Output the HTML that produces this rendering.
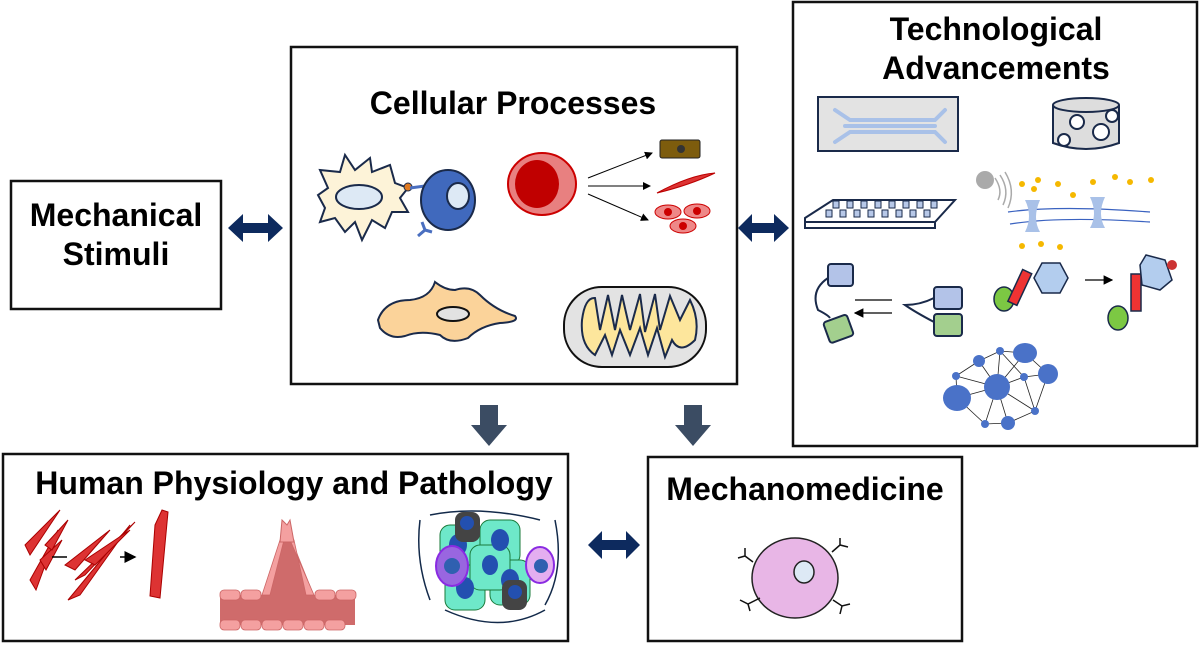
<!DOCTYPE html>
<html><head><meta charset="utf-8"><style>
body{margin:0;background:#fff;width:1200px;height:645px;overflow:hidden}
svg{display:block}
text{font-family:"Liberation Sans",Arial,sans-serif;font-weight:bold;fill:#000}
</style></head><body>
<svg width="1200" height="645" viewBox="0 0 1200 645">
<defs>
<marker id="ah" markerWidth="8" markerHeight="8" refX="7" refY="4" orient="auto"><path d="M0,0 L8,4 L0,8z" fill="#000"/></marker>
</defs>
<!-- boxes -->
<rect x="11" y="181" width="210" height="128" fill="#fff" stroke="#111" stroke-width="2.5"/>
<text x="116" y="226" font-size="32" text-anchor="middle">Mechanical</text>
<text x="116" y="265" font-size="32" text-anchor="middle">Stimuli</text>
<rect x="291" y="47" width="446" height="337" fill="#fff" stroke="#111" stroke-width="2.5"/>
<text x="513" y="114" font-size="32" text-anchor="middle">Cellular Processes</text>
<rect x="793" y="2" width="404" height="444" fill="#fff" stroke="#111" stroke-width="2.5"/>
<text x="996" y="40" font-size="32" text-anchor="middle">Technological</text>
<text x="996" y="79" font-size="32" text-anchor="middle">Advancements</text>
<rect x="3" y="454" width="565" height="187" fill="#fff" stroke="#111" stroke-width="2.5"/>
<text x="294" y="494" font-size="32" text-anchor="middle">Human Physiology and Pathology</text>
<rect x="648" y="457" width="314" height="184" fill="#fff" stroke="#111" stroke-width="2.5"/>
<text x="805" y="500" font-size="32" text-anchor="middle">Mechanomedicine</text>
<!-- double arrows -->
<g fill="#0d2a5e">
<path d="M228,228 L243,214 L243,223 L268,223 L268,214 L283,228 L268,242 L268,233 L243,233 L243,242z"/>
<path d="M738,228 L752,214 L752,223 L774,223 L774,214 L789,228 L774,242 L774,233 L752,233 L752,242z"/>
<path d="M588,545 L602,531 L602,540 L626,540 L626,531 L640,545 L626,559 L626,550 L602,550 L602,559z"/>
</g>
<g fill="#3b4c63">
<path d="M480,405 L498,405 L498,425 L507,425 L489,446 L471,425 L480,425z"/>
<path d="M684,405 L702,405 L702,425 L711,425 L693,446 L675,425 L684,425z"/>
</g>
<!-- cellular: dendritic cell -->
<path d="M320,170 L340,172 L345,155 L355,170 L370,158 L372,172 L390,165 L395,183 L408,188 L400,198 L408,212 L392,212 L385,228 L372,220 L362,240 L355,222 L345,232 L335,218 L320,222 L325,208 L318,195 L328,188z" fill="#fdf3d8" stroke="#1a2a4a" stroke-width="2"/>
<ellipse cx="359" cy="197" rx="23" ry="12" fill="#dde9f5" stroke="#1a2a4a" stroke-width="2"/>
<circle cx="408" cy="187" r="4" fill="#e07a20" stroke="#1a2a4a"/>
<path d="M410,188 L425,186 M422,222 L425,230 L418,236 M425,230 L432,232" stroke="#4a6fc0" stroke-width="3" fill="none"/>
<ellipse cx="448" cy="200" rx="27" ry="30" fill="#4069bd" stroke="#1a2a4a" stroke-width="2"/>
<ellipse cx="458" cy="196" rx="11" ry="13" fill="#dde9f5" stroke="#1a2a4a" stroke-width="2"/>
<!-- stem cell -->
<ellipse cx="542" cy="184" rx="34" ry="31" fill="#e88080" stroke="#c00" stroke-width="2"/>
<ellipse cx="537" cy="184" rx="22" ry="24" fill="#c00000"/>
<g stroke="#000" stroke-width="1" marker-end="url(#ah)">
<line x1="588" y1="178" x2="652" y2="153"/><line x1="588" y1="186" x2="650" y2="186"/><line x1="588" y1="194" x2="648" y2="220"/>
</g>
<rect x="660" y="140" width="40" height="18" rx="2" fill="#7d5c0d" stroke="#222"/>
<circle cx="681" cy="149" r="4" fill="#333"/>
<path d="M657,193 Q690,175 715,173 Q690,185 657,193z" fill="#d33" stroke="#b00"/>
<ellipse cx="668" cy="212" rx="13" ry="7" fill="#e88" stroke="#c00"/><ellipse cx="697" cy="211" rx="13" ry="7" fill="#e88" stroke="#c00"/><ellipse cx="683" cy="226" rx="13" ry="7" fill="#e88" stroke="#c00"/>
<g fill="#c00"><circle cx="668" cy="212" r="4"/><circle cx="697" cy="211" r="4"/><circle cx="683" cy="226" r="4"/></g>
<!-- fibroblast -->
<path d="M378,320 Q385,300 410,300 Q430,298 435,282 Q445,290 455,290 Q470,285 480,295 Q495,310 515,316 Q520,322 500,323 Q480,326 468,338 Q450,345 440,335 Q420,330 405,336 Q390,340 380,328z" fill="#fbd39a" stroke="#1a2a4a" stroke-width="2"/>
<ellipse cx="453" cy="314" rx="16" ry="7" fill="#e2e2e2" stroke="#111" stroke-width="2"/>
<!-- mitochondrion -->
<rect x="564" y="287" width="142" height="80" rx="38" fill="#e3e3e3" stroke="#111" stroke-width="2"/>
<path d="M582,320 Q585,297 595,298 L600,330 L608,295 L615,330 L622,295 L630,330 L640,294 L645,332 L655,294 L660,330 L670,296 L680,320 L690,300 Q700,320 695,340 Q680,355 672,340 L665,357 L657,328 L648,355 L640,328 L630,355 L620,330 L612,355 L605,335 L595,355 Q580,345 582,320z" fill="#fde69c" stroke="#1a2a4a" stroke-width="2"/>
<!-- tech: chip -->
<rect x="818" y="97" width="140" height="54" fill="#e3e3e3" stroke="#1a2a4a" stroke-width="2"/>
<path d="M835,110 L850,120 L935,120 L945,110 M835,142 L850,132 L935,132 L945,142 M845,126 L935,126" stroke="#a9c1e8" stroke-width="4" fill="none" stroke-linecap="round"/>
<!-- scaffold -->
<path d="M1053,105 L1053,143 Q1086,155 1119,143 L1119,105" fill="#ddd" stroke="#1a2a4a" stroke-width="2"/>
<ellipse cx="1086" cy="105" rx="33" ry="7" fill="#ddd" stroke="#1a2a4a" stroke-width="2"/>
<g fill="#fff" stroke="#1a2a4a" stroke-width="2"><circle cx="1077" cy="122" r="7"/><circle cx="1101" cy="132" r="8"/><circle cx="1064" cy="140" r="6"/><circle cx="1112" cy="116" r="6"/></g>
<!-- well plate -->
<path d="M805,218 L833,200 L955,200 L935,222 L805,222z" fill="#fff" stroke="#1a2a4a" stroke-width="2"/>
<rect x="805" y="222" width="130" height="6" fill="#fff" stroke="#1a2a4a" stroke-width="2"/>
<g fill="#b7c8e8" stroke="#1a2a4a" stroke-width="1">
<rect x="833" y="201" width="6" height="7"/><rect x="847" y="201" width="6" height="7"/><rect x="861" y="201" width="6" height="7"/><rect x="875" y="201" width="6" height="7"/><rect x="889" y="201" width="6" height="7"/><rect x="903" y="201" width="6" height="7"/><rect x="917" y="201" width="6" height="7"/><rect x="931" y="201" width="6" height="7"/>
<rect x="826" y="210" width="6" height="7"/><rect x="840" y="210" width="6" height="7"/><rect x="854" y="210" width="6" height="7"/><rect x="868" y="210" width="6" height="7"/><rect x="882" y="210" width="6" height="7"/><rect x="896" y="210" width="6" height="7"/><rect x="910" y="210" width="6" height="7"/><rect x="924" y="210" width="6" height="7"/></g>
<!-- membrane channels -->
<circle cx="985" cy="180" r="9" fill="#aaa"/>
<path d="M995,178 Q1003,190 998,200 M1000,175 Q1010,190 1003,205 M1005,172 Q1016,190 1008,208" stroke="#aaa" stroke-width="1.5" fill="none"/>
<path d="M1008,212 Q1060,205 1150,212 M1010,224 Q1060,216 1150,222" stroke="#3a62c0" stroke-width="1.2" fill="none"/>
<path d="M1025,200 L1040,200 Q1032,218 1040,232 L1025,232 Q1033,216 1025,200z" fill="#a9c1e8"/>
<path d="M1090,197 L1105,197 Q1097,214 1105,228 L1090,228 Q1098,214 1090,197z" fill="#a9c1e8"/>
<g fill="#f5b800"><circle cx="1022" cy="184" r="3"/><circle cx="1038" cy="180" r="3"/><circle cx="1034" cy="189" r="3"/><circle cx="1058" cy="184" r="3"/><circle cx="1073" cy="195" r="3"/><circle cx="1093" cy="182" r="3"/><circle cx="1115" cy="177" r="3"/><circle cx="1130" cy="182" r="3"/><circle cx="1151" cy="180" r="3"/><circle cx="1022" cy="246" r="3"/><circle cx="1041" cy="244" r="3"/><circle cx="1060" cy="247" r="3"/></g>
<!-- FRET -->
<g stroke="#1a2a4a" stroke-width="2">
<rect x="828" y="264" width="25" height="22" rx="3" fill="#b3c3e8"/>
<rect x="826" y="318" width="25" height="22" rx="3" fill="#a3cf8e" transform="rotate(-20 838 329)"/>
<rect x="934" y="287" width="28" height="22" rx="3" fill="#b3c3e8"/>
<rect x="934" y="314" width="28" height="22" rx="3" fill="#a3cf8e"/>
<path d="M828,278 Q810,290 818,310 Q828,315 830,318 M934,298 Q920,305 905,305 Q915,312 934,322" fill="none"/>
</g>
<path d="M855,300 L892,300 M892,313 L855,313" stroke="#000" stroke-width="1.2" marker-end="url(#ah)"/>
<!-- sensor -->
<g stroke="#1a2a4a" stroke-width="1.5">
<ellipse cx="1004" cy="299" rx="10" ry="12" fill="#7cc843"/>
<rect x="1015" y="270" width="10" height="35" fill="#e33" transform="rotate(25 1020 287)"/>
<path d="M1042,263 L1060,263 L1068,278 L1060,293 L1042,293 L1034,278z" fill="#b3cdee"/>
<ellipse cx="1118" cy="318" rx="10" ry="12" fill="#7cc843"/>
<rect x="1131" y="274" width="10" height="37" fill="#e33"/>
<path d="M1146,255 L1165,260 L1172,280 L1160,290 L1142,285 L1140,265z" fill="#b3cdee"/>
</g>
<circle cx="1172" cy="265" r="5" fill="#c33"/>
<path d="M1085,280 L1112,280" stroke="#000" stroke-width="1.2" marker-end="url(#ah)"/>
<!-- network -->
<g stroke="#222" stroke-width="0.8" fill="none">
<path d="M997,387 L1000,351 M997,387 L1025,353 M997,387 L957,398 M997,387 L979,361 M997,387 L956,376 M997,387 L1024,377 L1048,374 M997,387 L1035,411 M997,387 L985,424 M997,387 L1008,423 M957,398 L985,424 L1008,423 L1035,411 L1048,374 L1025,353 L1000,351 L979,361 L956,376 L957,398 M1024,377 L1035,411 M1000,351 L1024,377"/>
</g>
<g fill="#4a72c8">
<circle cx="997" cy="387" r="13"/><circle cx="1000" cy="351" r="4"/><ellipse cx="1025" cy="353" rx="12" ry="10"/><circle cx="979" cy="361" r="6"/><ellipse cx="957" cy="398" rx="14" ry="13"/><circle cx="956" cy="376" r="4"/><circle cx="1048" cy="374" r="10"/><circle cx="1024" cy="377" r="4"/><circle cx="1035" cy="411" r="4"/><circle cx="985" cy="424" r="4"/><circle cx="1008" cy="423" r="7"/>
</g>
<!-- human: muscle -->
<g fill="#d33" stroke="#a00" stroke-width="1">
<path d="M25,545 L60,510 L30,555z"/><path d="M30,580 L58,530 L36,590z"/><path d="M40,560 L62,540 L46,570z"/><path d="M45,545 L68,520 L52,550z"/>
<path d="M68,600 L130,525 L80,595z"/><path d="M75,580 L135,522 L85,575z"/><path d="M65,565 L110,530 L75,570z"/><path d="M85,560 L130,530 L95,565z"/>
<path d="M155,525 L162,510 L168,512 L160,598 L150,596z"/>
</g>
<path d="M52,557 L67,557 M120,557 L135,557" stroke="#000" stroke-width="1.5" marker-end="url(#ah)"/>
<!-- epithelium -->
<rect x="220" y="595" width="135" height="30" fill="#cf6b6b"/>
<g fill="#f4a0a0" stroke="#c66" stroke-width="0.8">
<rect x="220" y="590" width="20" height="10" rx="4"/><rect x="241" y="590" width="20" height="10" rx="4"/><rect x="315" y="590" width="20" height="10" rx="4"/><rect x="336" y="590" width="20" height="10" rx="4"/>
<rect x="220" y="620" width="20" height="10" rx="4"/><rect x="241" y="620" width="20" height="10" rx="4"/><rect x="262" y="620" width="20" height="10" rx="4"/><rect x="283" y="620" width="20" height="10" rx="4"/><rect x="304" y="620" width="20" height="10" rx="4"/><rect x="325" y="620" width="20" height="10" rx="4"/>
</g>
<path d="M262,595 L282,540 L292,540 L314,595z" fill="#cf6b6b"/>
<path d="M262,595 L280,540 L284,540 L270,595z M314,595 L290,540 L294,540 L306,595z" fill="#f4a0a0" stroke="#c66" stroke-width="0.8"/>
<path d="M280,542 L282,520 L287,525 L290,520 L294,542z" fill="#f4a0a0" stroke="#c66"/>
<!-- tumor -->
<g stroke="#132a4a" stroke-width="1.5" fill="none"><path d="M420,520 Q415,560 430,600 M445,610 Q500,635 545,610 M555,520 Q565,570 545,605 M430,515 Q480,505 540,520"/></g>
<g stroke="#1a7a3a" stroke-width="1" fill="#6ee8c9">
<rect x="440" y="525" width="40" height="45" rx="10"/><rect x="480" y="520" width="40" height="45" rx="10"/><rect x="445" y="565" width="40" height="45" rx="10"/><rect x="490" y="560" width="40" height="45" rx="10"/><rect x="470" y="545" width="40" height="45" rx="10"/></g>
<g fill="#2350b0"><ellipse cx="458" cy="545" rx="9" ry="11"/><ellipse cx="500" cy="540" rx="9" ry="11"/><ellipse cx="465" cy="588" rx="9" ry="11"/><ellipse cx="510" cy="580" rx="9" ry="11"/><ellipse cx="490" cy="565" rx="8" ry="10"/></g>
<rect x="502" y="580" width="25" height="30" rx="8" fill="#444"/><ellipse cx="515" cy="592" rx="7" ry="7" fill="#2350b0"/>
<rect x="455" y="512" width="25" height="30" rx="8" fill="#444"/><ellipse cx="467" cy="523" rx="7" ry="7" fill="#2350b0"/>
<ellipse cx="452" cy="566" rx="16" ry="20" fill="#9966e0" stroke="#8a2be2" stroke-width="2"/><circle cx="452" cy="566" r="8" fill="#2f60b0"/>
<ellipse cx="540" cy="565" rx="14" ry="18" fill="#e4aef0" stroke="#8a2be2" stroke-width="2"/><circle cx="541" cy="566" r="7" fill="#2f60b0"/>
<!-- mechanomedicine cell -->
<ellipse cx="795" cy="578" rx="43" ry="40" fill="#e8b6e6" stroke="#222" stroke-width="1.5"/>
<ellipse cx="804" cy="572" rx="10" ry="11" fill="#dde9f5" stroke="#222" stroke-width="1.5"/>
<g stroke="#111" stroke-width="1.5" fill="none">
<path d="M753,562 L745,556 L738,558 M745,556 L745,548"/><path d="M760,598 L748,604 L740,600 M748,604 L750,611"/><path d="M832,552 L840,545 L848,547 M840,545 L840,538"/><path d="M833,600 L842,606 L850,604 M842,606 L840,614"/>
</g>
</svg>
</body></html>
